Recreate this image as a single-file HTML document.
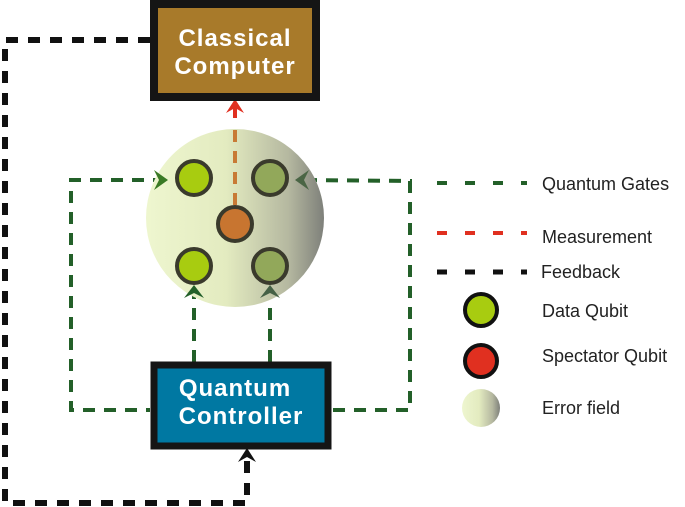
<!DOCTYPE html>
<html><head><style>body{margin:0;background:#fff}svg{display:block}</style></head><body>
<svg width="685" height="507" viewBox="0 0 685 507" xmlns="http://www.w3.org/2000/svg" font-family="Liberation Sans, sans-serif">
<defs>
<linearGradient id="ef" x1="0" x2="1" y1="0" y2="0">
<stop offset="0" stop-color="#eef6cf"/><stop offset="0.45" stop-color="#e3ebc0"/><stop offset="0.8" stop-color="#b5b8a0"/><stop offset="1" stop-color="#7e807a"/>
</linearGradient>
</defs>
<polyline points="150,40 5,40 5,503 247,503 247,455" fill="none" stroke="#111" stroke-width="6" stroke-dasharray="12,10"/>
<path d="M238,462 L247,448 L256,462 L247,457Z" fill="#111"/>
<g fill="none" stroke="#236029" stroke-width="4" stroke-dasharray="12,9">
<polyline points="165,180 71,180 71,410 150,410"/>
<polyline points="305,180 410,181 410,410 332,410"/>
<line x1="194" y1="362" x2="194" y2="292"/>
<line x1="270" y1="362" x2="270" y2="292"/>
</g>
<circle cx="235" cy="218" r="89" fill="url(#ef)"/>
<line x1="235" y1="205" x2="235" y2="130" stroke="#c87a35" stroke-width="4" stroke-dasharray="12,9"/>
<line x1="235" y1="118" x2="235" y2="105" stroke="#e03020" stroke-width="4"/>
<path d="M226,113 L235,99 L244,113 L235,108Z" fill="#e03020"/>
<path d="M154,170 L168,180 L154,190 L159,180Z" fill="#3a7a25"/>
<path d="M309,170 L295,180 L309,190 L304,180Z" fill="#4a6545"/>
<path d="M184,298 L194,285 L204,298 L194,293Z" fill="#236029"/>
<path d="M260,298 L270,285 L280,298 L270,293Z" fill="#456045"/>
<g stroke="#3a3a2c" stroke-width="4">
<circle cx="194" cy="178" r="17" fill="#a8cc10"/>
<circle cx="270" cy="178" r="17" fill="#92a85a"/>
<circle cx="235" cy="224" r="17" fill="#c87530"/>
<circle cx="194" cy="266" r="17" fill="#a8cc10"/>
<circle cx="270" cy="266" r="17" fill="#92a85a"/>
</g>
<rect x="154" y="4" width="162" height="93" fill="#a87a2a" stroke="#151515" stroke-width="8"/>
<text x="235" y="46" text-anchor="middle" fill="#fff" font-weight="bold" font-size="24" letter-spacing="1">Classical</text>
<text x="235" y="74" text-anchor="middle" fill="#fff" font-weight="bold" font-size="24" letter-spacing="1">Computer</text>
<rect x="154" y="365" width="174" height="81" fill="#0078a2" stroke="#151515" stroke-width="7"/>
<text x="235" y="396" text-anchor="middle" fill="#fff" font-weight="bold" font-size="24" letter-spacing="1">Quantum</text>
<text x="241" y="424" text-anchor="middle" fill="#fff" font-weight="bold" font-size="24" letter-spacing="1">Controller</text>
<line x1="437" y1="183" x2="527" y2="183" stroke="#236029" stroke-width="4" stroke-dasharray="10,18"/>
<line x1="437" y1="233" x2="527" y2="233" stroke="#e03020" stroke-width="4" stroke-dasharray="10,18"/>
<line x1="437" y1="272" x2="527" y2="272" stroke="#111" stroke-width="5" stroke-dasharray="10,18"/>
<circle cx="481" cy="310" r="16" fill="#a8cc10" stroke="#111" stroke-width="4"/>
<circle cx="481" cy="361" r="16" fill="#e03020" stroke="#111" stroke-width="4"/>
<circle cx="481" cy="408" r="19" fill="url(#ef)"/>
<g font-size="18" fill="#222">
<text x="542" y="190">Quantum Gates</text>
<text x="542" y="243">Measurement</text>
<text x="541" y="278">Feedback</text>
<text x="542" y="317">Data Qubit</text>
<text x="542" y="362">Spectator Qubit</text>
<text x="542" y="414">Error field</text>
</g>
</svg>
</body></html>
